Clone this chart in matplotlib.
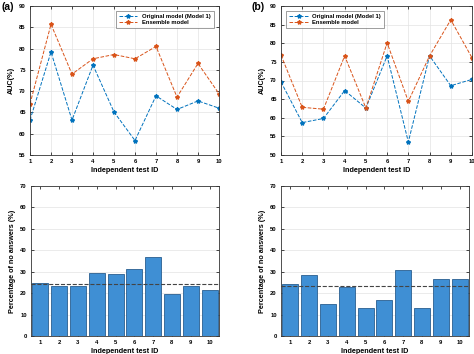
import matplotlib.pyplot as plt
import numpy as np

# Datos
test_id = np.arange(1, 11)

auc_orig_a = [63.2, 79.2, 63.2, 76.1, 65.1, 58.4, 68.9, 65.7, 67.7, 66.0]
auc_ens_a = [67.0, 85.7, 74.0, 77.6, 78.6, 77.6, 80.5, 68.6, 76.5, 69.4]

auc_orig_b = [69.6, 58.7, 59.8, 67.3, 62.6, 76.6, 53.5, 76.6, 68.6, 70.3]
auc_ens_b = [76.8, 62.8, 62.3, 76.6, 62.6, 80.1, 64.4, 76.6, 86.3, 76.1]

no_ans_a = [24.8, 23.2, 23.2, 29.3, 28.9, 31.4, 36.7, 19.7, 23.2, 21.4]
no_ans_b = [24.5, 28.3, 15.1, 22.8, 13.0, 16.6, 30.6, 13.0, 26.4, 26.4]
media_a = 24.2
media_b = 23.5

azul = '#0072BD'
naranja = '#D95319'
fs_tick = 4.2
fs_lab = 5.2

plt.rcParams['font.family'] = ['Liberation Sans', 'DejaVu Sans']
plt.rcParams['font.weight'] = 'bold'

fig = plt.figure(figsize=(4.74, 3.54), dpi=100)

def estilo(ax):
    ax.tick_params(labelsize=fs_tick, direction='in', length=2, width=0.5,
                   top=True, right=True, pad=3)
    for lab in ax.get_xticklabels() + ax.get_yticklabels():
        lab.set_fontweight('bold')
    for s in ax.spines.values():
        s.set_linewidth(0.6)
        s.set_color('#333333')

def grafico_auc(rect, orig, ens, ylim, yticks, legend_loc):
    ax = fig.add_axes(rect)
    ax.plot(test_id, orig, '--', color=azul, marker='*', ms=3, lw=0.7,
            label='Original model (Model 1)')
    ax.plot(test_id, ens, '--', color=naranja, marker='*', ms=3, lw=0.7,
            label='Ensemble model')
    ax.set_xlim(1, 10)
    ax.set_ylim(*ylim)
    ax.set_xticks(test_id)
    ax.set_yticks(yticks)
    ax.grid(True, color='#e3e3e3', lw=0.5)
    ax.set_axisbelow(True)
    ax.set_xlabel('Independent test ID', fontsize=fs_lab, fontweight='bold', labelpad=2)
    ax.set_ylabel('AUC(%)', fontsize=fs_lab, fontweight='bold', labelpad=3)
    leg = ax.legend(loc=legend_loc, fontsize=4.2, frameon=True, fancybox=False,
                    handlelength=3.2, borderpad=0.5, labelspacing=0.2,
                    borderaxespad=0.9)
    leg.get_frame().set_edgecolor('#555555')
    leg.get_frame().set_linewidth(0.5)
    for t in leg.get_texts():
        t.set_fontweight('bold')
    estilo(ax)
    return ax

def grafico_barras(rect, valores, media):
    ax = fig.add_axes(rect)
    ax.bar(test_id, valores, width=0.85, color='#3f8fd4', edgecolor='#2a5f90', lw=0.6)
    ax.axhline(media, color='#444444', ls='--', lw=0.8)
    ax.set_xlim(0.5, 10.5)
    ax.set_ylim(0, 70)
    ax.set_xticks(test_id)
    ax.set_yticks(np.arange(0, 71, 10))
    ax.grid(True, axis='y', color='#e3e3e3', lw=0.5)
    ax.set_axisbelow(True)
    ax.set_xlabel('Independent test ID', fontsize=fs_lab, fontweight='bold', labelpad=2)
    ax.set_ylabel('Percentage of no answers (%)', fontsize=fs_lab, fontweight='bold', labelpad=3)
    estilo(ax)
    return ax

grafico_auc([30/474, 1 - 155/354, 189/474, 149/354], auc_orig_a, auc_ens_a,
            (55, 90), np.arange(55, 91, 5), 'upper right')
grafico_auc([281/474, 1 - 155/354, 191/474, 149/354], auc_orig_b, auc_ens_b,
            (50, 90), np.arange(50, 91, 5), 'upper left')
grafico_barras([31/474, 1 - 336/354, 188/474, 150/354], no_ans_a, media_a)
grafico_barras([281/474, 1 - 336/354, 188/474, 150/354], no_ans_b, media_b)

fig.text(1/474, 1 - 7/354, '(a)', fontsize=7.5, fontweight='bold', va='center')
fig.text(252/474, 1 - 7/354, '(b)', fontsize=7.5, fontweight='bold', va='center')

fig.savefig('out.png', dpi=100)
